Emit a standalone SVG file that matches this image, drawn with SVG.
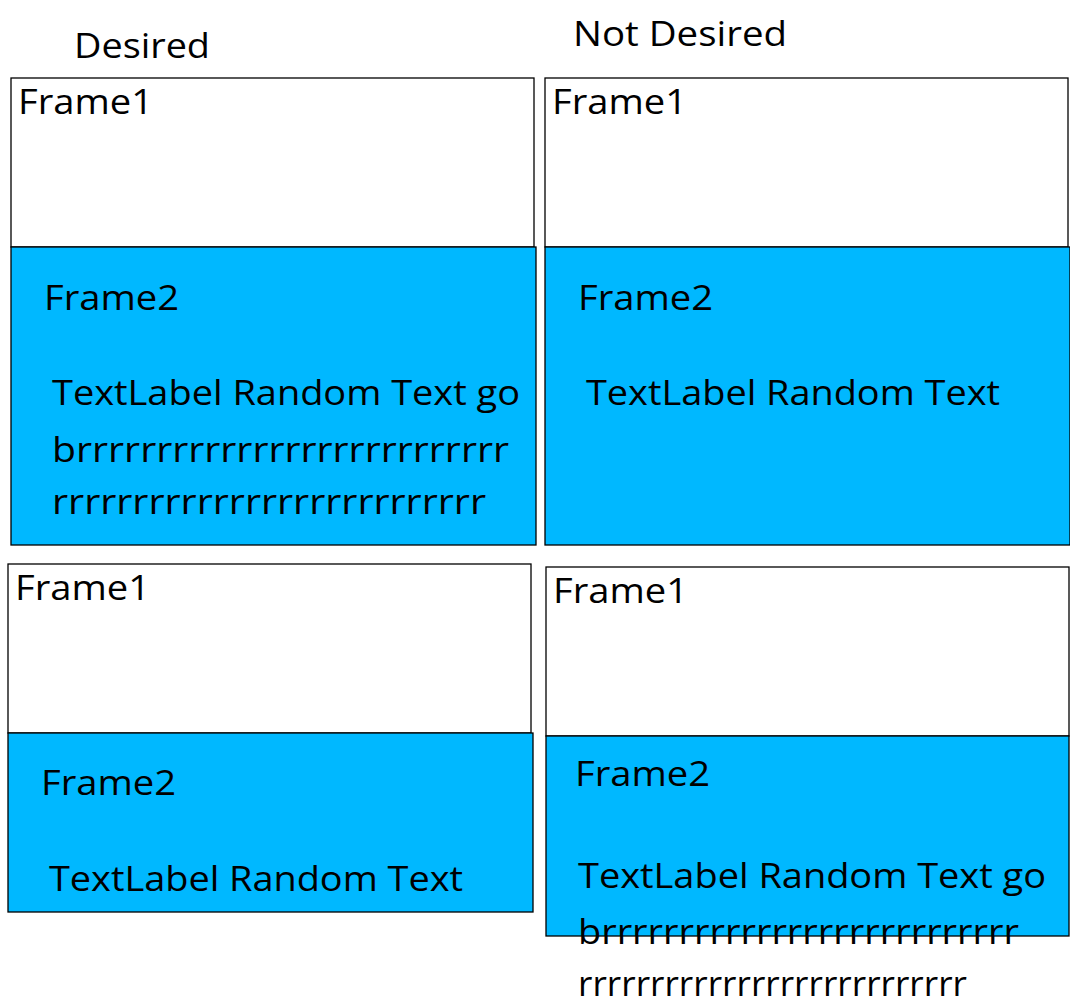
<svg xmlns="http://www.w3.org/2000/svg" width="1070" height="1000" viewBox="0 0 1070 1000">
<style>
.f1{fill:#fff;stroke:#000;stroke-width:1.3}
.f2{fill:#00B8FF;stroke:#000;stroke-width:1.3}
text{font-family:"Open Sans","Liberation Sans",sans-serif;font-size:35px;fill:#000}
</style>
<rect width="1070" height="1000" fill="#fff"/>
<text x="74" y="58" textLength="136" lengthAdjust="spacingAndGlyphs">Desired</text>
<text x="573" y="46" textLength="214" lengthAdjust="spacingAndGlyphs">Not Desired</text>
<g id="tl">
<rect class="f1" x="11" y="78" width="523" height="169"/>
<rect class="f2" x="11" y="247" width="525" height="298"/>
<text x="18" y="114" textLength="135" lengthAdjust="spacingAndGlyphs">Frame1</text>
<text x="44" y="310" textLength="135" lengthAdjust="spacingAndGlyphs">Frame2</text>
<text x="52" y="405" textLength="468" lengthAdjust="spacingAndGlyphs">TextLabel Random Text go</text>
<text x="52" y="462" textLength="457" lengthAdjust="spacingAndGlyphs">brrrrrrrrrrrrrrrrrrrrrrrrrrr</text>
<text x="52" y="514" textLength="434" lengthAdjust="spacingAndGlyphs">rrrrrrrrrrrrrrrrrrrrrrrrrrr</text>
</g>
<g id="tr">
<rect class="f1" x="545" y="78" width="523" height="169"/>
<rect class="f2" x="545" y="247" width="525" height="298"/>
<text x="552" y="114" textLength="135" lengthAdjust="spacingAndGlyphs">Frame1</text>
<text x="578" y="310" textLength="135" lengthAdjust="spacingAndGlyphs">Frame2</text>
<text x="586" y="405" textLength="414" lengthAdjust="spacingAndGlyphs">TextLabel Random Text</text>
</g>
<g id="bl">
<rect class="f1" x="8" y="564" width="523" height="169"/>
<rect class="f2" x="8" y="733" width="525" height="179"/>
<text x="15" y="600" textLength="135" lengthAdjust="spacingAndGlyphs">Frame1</text>
<text x="41" y="795" textLength="135" lengthAdjust="spacingAndGlyphs">Frame2</text>
<text x="49" y="891" textLength="414" lengthAdjust="spacingAndGlyphs">TextLabel Random Text</text>
</g>
<g id="br">
<rect class="f1" x="546" y="567" width="523" height="169"/>
<rect class="f2" x="546" y="736" width="523" height="200"/>
<text x="553" y="603" textLength="135" lengthAdjust="spacingAndGlyphs">Frame1</text>
<text x="575" y="786" textLength="135" lengthAdjust="spacingAndGlyphs">Frame2</text>
<text x="578" y="888" textLength="468" lengthAdjust="spacingAndGlyphs">TextLabel Random Text go</text>
<text x="578" y="944" textLength="441" lengthAdjust="spacingAndGlyphs">brrrrrrrrrrrrrrrrrrrrrrrrrrr</text>
<text x="578" y="996" textLength="389" lengthAdjust="spacingAndGlyphs">rrrrrrrrrrrrrrrrrrrrrrrrrrr</text>
</g>
<g id="connectors"/>
</svg>
